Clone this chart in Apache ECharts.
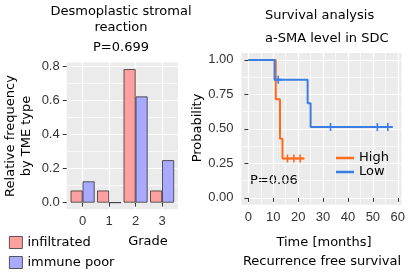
<!DOCTYPE html>
<html>
<head>
<meta charset="utf-8">
<script src="https://cdn.jsdelivr.net/npm/echarts@6/dist/echarts.min.js"></script>
<style>
html, body { margin: 0; padding: 0; background: #fff; }
#main { width: 410px; height: 274px; }
</style>
</head>
<body>
<div id="main"></div>
<script>
// left panel: relative frequency by grade
var grades = ['0', '1', '2', '3'];
var infiltrated = [0.071, 0.071, 0.786, 0.071];
var immunePoor = [0.125, 0, 0.625, 0.25];
var freqTicks = [0, 0.2, 0.4, 0.6, 0.8];
var freqMinor = [0.1, 0.3, 0.5, 0.7];
var gradePos = [1, 2, 3, 4];

// right panel: Kaplan-Meier curves
var highCurve = [[0, 1], [11, 0.714], [12.7, 0.429], [13.7, 0.286], [22.5, 0.286]];
var lowCurve = [[0, 1], [10.5, 0.857], [23.8, 0.686], [25, 0.514], [58, 0.514]];
var highCensor = [[15.7, 0.286], [18.3, 0.286], [20.8, 0.286]];
var lowCensor = [[12, 0.857], [33, 0.514], [51.8, 0.514], [56, 0.514]];
var timeTicks = [0, 10, 20, 30, 40, 50, 60];
var timeMinor = [5, 15, 25, 35, 45, 55];
var probTicks = [0, 0.25, 0.5, 0.75, 1];
var probMinor = [0.125, 0.375, 0.625, 0.875];

var FONT = '"DejaVu Sans", sans-serif';
var NUMFONT = '"Liberation Sans", Arial, sans-serif';
var PINK = '#FFA0A0', LILAC = '#A9A9FF', ORANGE = '#FF6B1C', BLUE = '#3A7EE4';
var plus = 'path://M4,0H6V4H10V6H6V10H4V6H0V4H4Z';

function majorAxis(grid, vals, min, max, fmt, pos, margin) {
	return {
		type: 'value', gridIndex: grid, min: min, max: max, position: pos,
		axisLine: { show: false },
		axisTick: { show: true, length: 4, customValues: vals, lineStyle: { color: '#333', width: 1 } },
		axisLabel: { customValues: vals, formatter: fmt, margin: margin, color: '#333', fontSize: 13, fontFamily: NUMFONT },
		splitLine: { show: true, lineStyle: { color: '#fff', width: 1.2 } }
	};
}
function minorAxis(grid, vals, min, max, pos) {
	return {
		type: 'value', gridIndex: grid, min: min, max: max, position: pos,
		axisLine: { show: false },
		axisTick: { show: false, customValues: vals },
		axisLabel: { show: false, customValues: vals },
		splitLine: { show: true, lineStyle: { color: '#fff', width: 0.6 } }
	};
}
function txt(s, x, y, opts) {
	opts = opts || {};
	return {
		type: 'text', x: x, y: y, rotation: opts.rot || 0, silent: true,
		style: { text: s, font: '13px ' + FONT, fill: '#000', align: opts.align || 'center', verticalAlign: 'middle' }
	};
}

var chart = echarts.init(document.getElementById('main'));
var option = {
	animation: false,
	grid: [
		{ left: 66.7, right: 232, top: 62.5, bottom: 64.7, show: true, backgroundColor: '#EBEBEB', borderWidth: 0 },
		{ left: 241.5, right: 8.5, top: 53, bottom: 69.2, show: true, backgroundColor: '#EBEBEB', borderWidth: 0 }
	],
	xAxis: [
		majorAxis(0, gradePos, 0.4, 4.6, function (v) { return grades[v - 1]; }, 'bottom', 6),
		majorAxis(1, timeTicks, -2.75, 61.5, function (v) { return String(v); }, 'bottom', 6),
		minorAxis(1, timeMinor, -2.75, 61.5, 'bottom')
	],
	yAxis: [
		majorAxis(0, freqTicks, -0.0393, 0.825, function (v) { return v.toFixed(1); }, 'left', 7),
		minorAxis(0, freqMinor, -0.0393, 0.825, 'left'),
		majorAxis(1, probTicks, -0.05, 1.05, function (v) { return v.toFixed(2); }, 'left', 8),
		minorAxis(1, probMinor, -0.05, 1.05, 'left')
	],
	legend: [
		{
			data: ['infiltrated', 'immune poor'], orient: 'vertical', left: 9, top: 236,
			icon: 'rect', itemWidth: 13, itemHeight: 12, itemGap: 7, padding: 0,
			itemStyle: { borderColor: '#333', borderWidth: 0.8 },
			textStyle: { fontSize: 13, fontFamily: FONT, color: '#000' }
		},
		{
			data: ['High', 'Low'], orient: 'vertical', left: 336, top: 151.5,
			icon: 'rect', itemWidth: 18, itemHeight: 2.5, itemGap: 1, padding: 0,
			textStyle: { fontSize: 13, fontFamily: FONT, color: '#000' }
		}
	],
	series: [
		{
			name: 'infiltrated', type: 'bar', xAxisIndex: 0, yAxisIndex: 0,
			data: gradePos.map(function (p, i) { return [p, infiltrated[i]]; }),
			barWidth: 12, barGap: '0%',
			itemStyle: { color: PINK, borderColor: '#333', borderWidth: 0.8 }
		},
		{
			name: 'immune poor', type: 'bar', xAxisIndex: 0, yAxisIndex: 0,
			data: gradePos.map(function (p, i) { return [p, immunePoor[i]]; }),
			barWidth: 12, barGap: '0%',
			itemStyle: { color: LILAC, borderColor: '#333', borderWidth: 0.8 }
		},
		{
			name: 'High', type: 'line', step: 'end', xAxisIndex: 1, yAxisIndex: 2,
			data: highCurve, showSymbol: false, symbol: 'none',
			lineStyle: { color: ORANGE, width: 2 }, itemStyle: { color: ORANGE }
		},
		{
			name: 'Low', type: 'line', step: 'end', xAxisIndex: 1, yAxisIndex: 2,
			data: lowCurve, showSymbol: false, symbol: 'none',
			lineStyle: { color: BLUE, width: 2 }, itemStyle: { color: BLUE }
		},
		{
			name: 'High censor', type: 'scatter', xAxisIndex: 1, yAxisIndex: 2,
			data: highCensor, symbol: plus, symbolSize: 8, itemStyle: { color: ORANGE, opacity: 1 }, z: 4
		},
		{
			name: 'Low censor', type: 'scatter', xAxisIndex: 1, yAxisIndex: 2,
			data: lowCensor, symbol: plus, symbolSize: 8, itemStyle: { color: BLUE, opacity: 1 }, z: 4
		}
	],
	graphic: [
		txt('Desmoplastic stromal', 121, 12),
		txt('reaction', 121, 28),
		txt('P=0.699', 121, 48),
		txt('Relative frequency', 11, 136, { rot: Math.PI / 2 }),
		txt('by TME type', 27, 136, { rot: Math.PI / 2 }),
		txt('Grade', 148, 242),
		txt('Survival analysis', 265, 16, { align: 'left' }),
		txt('a-SMA level in SDC', 265, 39, { align: 'left' }),
		txt('Probability', 198, 128, { rot: Math.PI / 2 }),
		txt('P=0.06', 250, 181, { align: 'left' }),
		txt('Time [months]', 324, 243),
		txt('Recurrence free survival', 322, 262)
	]
};
chart.setOption(option);
</script>
</body>
</html>
